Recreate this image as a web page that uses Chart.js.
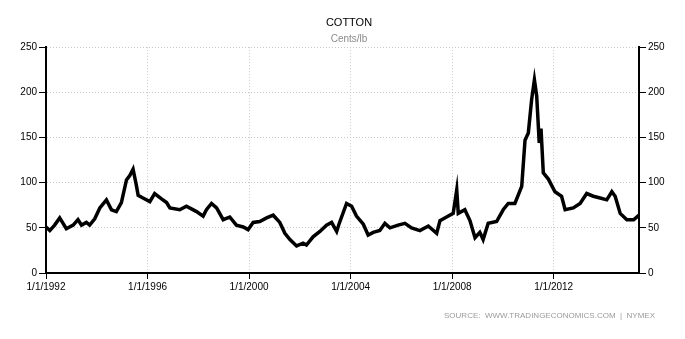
<!DOCTYPE html>
<html>
<head>
<meta charset="utf-8">
<script src="https://cdn.jsdelivr.net/npm/chart.js@4"></script>
<style>
  html, body { margin: 0; padding: 0; background: #fff; }
  #wrap { width: 685px; height: 339px; position: relative; }
</style>
</head>
<body>
<div id="wrap"><canvas id="c" width="685" height="339"></canvas></div>
<script>
// Decimal years of the traced points
const years = [
  1992.00, 1992.15, 1992.34, 1992.54, 1992.80, 1993.07, 1993.26, 1993.40, 1993.59, 1993.72,
  1993.92, 1994.12, 1994.38, 1994.58, 1994.77, 1994.97, 1995.17, 1995.30, 1995.43, 1995.56,
  1995.63, 1995.82, 1996.09, 1996.28, 1996.55, 1996.75, 1996.88, 1997.27, 1997.53, 1997.93,
  1998.19, 1998.32, 1998.52, 1998.72, 1998.98, 1999.24, 1999.50, 1999.77, 1999.96, 2000.16,
  2000.42, 2000.69, 2000.95, 2001.21, 2001.41, 2001.61, 2001.87, 2002.13, 2002.26, 2002.52,
  2002.79, 2003.05, 2003.25, 2003.45, 2003.54, 2003.84, 2004.04, 2004.23, 2004.50, 2004.69,
  2004.89, 2005.15, 2005.35, 2005.55, 2005.87, 2006.14, 2006.40, 2006.73, 2007.06, 2007.39,
  2007.52, 2007.78, 2008.04, 2008.18, 2008.24, 2008.50, 2008.70, 2008.90, 2009.09, 2009.22,
  2009.42, 2009.75, 2010.01, 2010.21, 2010.47, 2010.74, 2010.87, 2011.00, 2011.13, 2011.24,
  2011.33, 2011.43, 2011.50, 2011.59, 2011.79, 2012.05, 2012.31, 2012.45, 2012.77, 2013.04,
  2013.30, 2013.56, 2013.83, 2014.09, 2014.29, 2014.42, 2014.62, 2014.88, 2015.15, 2015.36
];
// Cotton price, US cents per lb
const cents = [
  51, 47, 53, 61, 49, 53, 59, 53, 56, 53,
  60, 72, 81, 70, 68, 78, 103, 108, 115, 97,
  86, 83, 79, 88, 82, 78, 72, 70, 74, 68,
  63, 70, 77, 72, 59, 62, 53, 51, 48, 56,
  57, 61, 64, 56, 44, 37, 30, 33, 31, 40,
  46, 53, 56, 46, 54, 77, 74, 63, 54, 42,
  45, 47, 55, 50, 53, 55, 50, 47, 52, 44,
  58, 62, 66, 92, 66, 70, 58, 39, 45, 37,
  55, 57, 70, 77, 77, 96, 147, 155, 192, 214,
  196, 144, 160, 111, 104, 90, 85, 70, 72, 77,
  88, 85, 83, 81, 90, 85, 66, 59, 59, 64
];
const xTickYears = [1992, 1996, 2000, 2004, 2008, 2012];
const yTicks = [0, 50, 100, 150, 200, 250];
const titleText = 'COTTON';
const unitText = 'Cents/lb';
const sourceText = 'SOURCE:  WWW.TRADINGECONOMICS.COM  |  NYMEX';

const points = years.map((y, i) => ({ x: y, y: cents[i] }));

const sourcePlugin = {
  id: 'sourceNote',
  afterDraw(chart) {
    const ctx = chart.ctx;
    ctx.save();
    ctx.font = '8px "Liberation Sans", Arial, sans-serif';
    ctx.fillStyle = '#9a9a9a';
    ctx.textAlign = 'right';
    ctx.textBaseline = 'middle';
    ctx.fillText(sourceText, 655, 316);
    ctx.restore();
  }
};

const tickFont = { family: '"Liberation Sans", Arial, sans-serif', size: 10 };

new Chart(document.getElementById('c'), {
  type: 'line',
  data: {
    datasets: [{
      data: points,
      borderColor: '#000',
      borderWidth: 3.5,
      pointRadius: 0,
      tension: 0,
      fill: false
    }]
  },
  options: {
    responsive: false,
    animation: false,
    layout: { padding: { top: 0, left: 13, right: 0, bottom: 0 } },
    plugins: {
      legend: { display: false },
      tooltip: { enabled: false },
      title: {
        display: true,
        text: titleText,
        color: '#000',
        font: { family: '"Liberation Sans", Arial, sans-serif', size: 11, weight: 'normal' },
        padding: { top: 16, bottom: 4 }
      },
      subtitle: {
        display: true,
        text: unitText,
        color: '#8a8a8a',
        font: { family: '"Liberation Sans", Arial, sans-serif', size: 10 },
        padding: { top: 0, bottom: 2 }
      }
    },
    scales: {
      x: {
        type: 'linear',
        min: 1992,
        max: 2015.36,
        afterBuildTicks(scale) { scale.ticks = xTickYears.map(v => ({ value: v })); },
        afterFit(scale) { scale.height = 66; },
        ticks: {
          color: '#000',
          font: tickFont,
          padding: 2,
          maxRotation: 0,
          autoSkip: false,
          callback: v => '1/1/' + v
        },
        grid: {
          color: '#c8c8c8',
          lineWidth: 1,
          tickColor: '#000',
          tickLength: 6,
          tickWidth: 1
        },
        border: { display: true, color: '#000', width: 2, dash: [1, 2] }
      },
      y: {
        position: 'left',
        min: 0,
        max: 250,
        afterBuildTicks(scale) { scale.ticks = yTicks.map(v => ({ value: v })); },
        afterFit(scale) { scale.width = 33; },
        ticks: { color: '#000', font: tickFont, padding: 2 },
        grid: {
          color: '#c8c8c8',
          lineWidth: 1,
          tickColor: '#000',
          tickLength: 7,
          tickWidth: 1
        },
        border: { display: true, color: '#000', width: 2, dash: [1, 2] }
      },
      y2: {
        position: 'right',
        min: 0,
        max: 250,
        afterBuildTicks(scale) { scale.ticks = yTicks.map(v => ({ value: v })); },
        afterFit(scale) { scale.width = 46; },
        ticks: { color: '#000', font: tickFont, padding: 2 },
        grid: {
          drawOnChartArea: false,
          tickColor: '#000',
          tickLength: 7,
          tickWidth: 1
        },
        border: { display: true, color: '#000', width: 2 }
      }
    }
  },
  plugins: [sourcePlugin]
});
</script>
</body>
</html>
